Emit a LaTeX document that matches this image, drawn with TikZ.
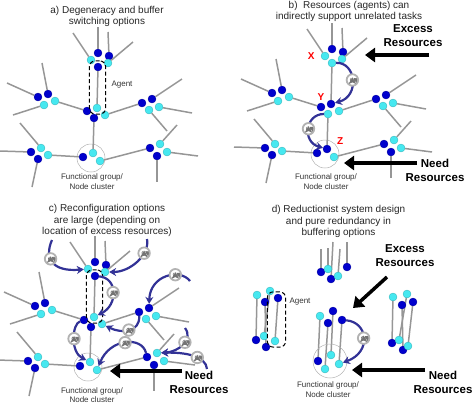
\documentclass[tikz,border=0pt]{standalone}
\usepackage{fontspec}
\setmainfont{Liberation Sans}
\usetikzlibrary{arrows.meta, positioning, fit, backgrounds}

\definecolor{dotblue}{RGB}{0,0,205}
\definecolor{dotcyan}{RGB}{70,232,240}
\definecolor{wiregray}{RGB}{150,150,150}
\definecolor{navy}{RGB}{50,50,150}

\tikzset{
  dot/.style={circle, inner sep=0pt, minimum size=8pt, fill=#1, draw=#1!75!black, line width=0.3pt},
  dkdot/.style={dot=dotblue},
  ltdot/.style={dot=dotcyan},
  va/.style={dkdot}, vb/.style={ltdot},
  wire/.style={draw=wiregray, line width=1.5pt},
  cluster/.style={circle, draw=gray!60, line width=0.5pt, minimum size=28pt, inner sep=0pt},
  agentbox/.style={draw, dash pattern=on 4pt off 2.5pt, line width=1pt, rounded corners=6pt, inner xsep=3.5pt, inner ysep=2pt},
  token/.style={circle, fill=white, draw=gray!60, line width=1.8pt, minimum size=11.5pt, inner sep=0pt,
    path picture={\draw[gray!90!black, line width=0.6pt] (path picture bounding box.center) ++(120:2.2pt) arc[start angle=120, end angle=420, radius=2.2pt];
      \draw[gray!90!black, line width=0.6pt] (path picture bounding box.center) -- ++(0,2.6pt);}},
  flow/.style={draw=navy, line width=2.2pt, -{Stealth[length=7pt, width=8pt]}},
  bigarrow/.style={line width=3.5pt, -{Triangle[length=10pt, width=14pt]}},
  heading/.style={align=center, text=black!85, font=\fontsize{10}{11.5}\selectfont},
  note/.style={align=center, text=black!80, font=\fontsize{8}{9.5}\selectfont},
  callout/.style={align=center, font=\bfseries\fontsize{11.5}{14}\selectfont},
  letter/.style={text=red, font=\bfseries\fontsize{10}{12}\selectfont, inner sep=1pt},
  net/.pic={
    \node[dkdot] (-t1) at (98,53) {};
    \node[dkdot] (-t2) at (109,56) {};
    \node[ltdot] (-t3) at (91,60) {};
    \node[ltdot] (-t4) at (108,63) {};
    \node[va] (-t5) at (98,67) {};
    \node[dkdot] (-l1) at (38,97) {};
    \node[dkdot] (-l2) at (48,94) {};
    \node[ltdot] (-l3) at (55,101) {};
    \node[ltdot] (-l4) at (44,105) {};
    \node[dkdot] (-m1) at (87,111) {};
    \node[vb] (-m2) at (97,108) {};
    \node[ltdot] (-m3) at (105,115) {};
    \node[va] (-m4) at (94,118) {};
    \node[dkdot] (-r1) at (142,103) {};
    \node[dkdot] (-r2) at (152,99) {};
    \node[ltdot] (-r3) at (159,107) {};
    \node[ltdot] (-r4) at (149,110) {};
    \node[dkdot] (-s1) at (31,152) {};
    \node[ltdot] (-s2) at (41,148) {};
    \node[ltdot] (-s3) at (48,155) {};
    \node[dkdot] (-s4) at (38,159) {};
    \node[dkdot] (-c1) at (83,157) {};
    \node[vb] (-c2) at (93,153) {};
    \node[ltdot] (-c3) at (100,161) {};
    \node[dkdot] (-e1) at (150,148) {};
    \node[ltdot] (-e2) at (160,144) {};
    \node[ltdot] (-e3) at (167,152) {};
    \node[dkdot] (-e4) at (157,156) {};
    \node[cluster] (-grp) at (91,158) {};
    % links between clusters
    \draw[wire] (-t5) -- (-m2);
    \draw[wire] (-l3) -- (-m1);
    \draw[wire] (-m3) -- (-r1);
    \draw[wire] (-m4) -- (-c2);
    \draw[wire] (-s3) -- (-c1);
    \draw[wire] (-c3) -- (-e1);
    % loose ends
    \foreach \n/\dx/\dy in {t1/0/-26, t2/-1/-24, t3/-18/-27, t4/25/-21,
        l1/-31/-14, l2/-6/-31, l4/-31/10, r2/30/-20, r3/33/6, r4/18/21,
        s1/-31/-1, s2/-21/-25, s4/-6/28, e2/17/-19, e3/31/4, e4/0/26}
      \draw[wire] (-\n) -- +(\dx,\dy);
  }
}

\begin{document}
\begin{tikzpicture}[x=1pt, y=-1pt]
\useasboundingbox (0,0) rectangle (474,413);

% a) degeneracy
\node[heading] (ttlA) at (107,16.5) {a) Degeneracy and buffer\\switching options};
\pic (pa) at (0,0) {net};
\node[agentbox, fit=(pa-t5)(pa-m2)] (agA) {};
\node[note] (agtA) at (122,85) {Agent};
\node[note] (fgA) at (92,181.5) {Functional group/\\Node cluster};

% b) indirect support
\node[heading] (ttlB) at (349,11.5) {b)~~Resources (agents) can\\indirectly support unrelated tasks};
\pic[va/.style=ltdot, vb/.style=dkdot] (pb) at (234,-4) {net};
\node[letter, left=5pt of pb-t3] (X) {X};
\node[letter, above=1pt of pb-m1] (Y) {Y};
\node[letter, above right=0pt and 6pt of pb-c2] (Z) {Z};
\draw[flow] (pb-t5) .. controls (356,62) and (360,96) .. (pb-m2) node[token, pos=0.5] (tkB1) {};
\draw[flow] (pb-m4) .. controls (305,114) and (302,142) .. (pb-c2) node[token, pos=0.5] (tkB2) {};
\node[note] (fgB) at (326,181.5) {Functional group/\\Node cluster};
\node[callout] (exB) at (413,36) {Excess\\Resources};
\coordinate (exBtail) at (429,55);
\coordinate (exBtip) at (365,55);
\draw[bigarrow] (exBtail) -- (exBtip);
\node[callout] (ndB) at (435,170) {Need\\Resources};
\coordinate (ndBtail) at (417,163);
\coordinate (ndBtip) at (344,163);
\draw[bigarrow] (ndBtail) -- (ndBtip);

% c) reconfiguration
\node[heading] (ttlC) at (107,220.5) {c) Reconfiguration options\\are large (depending on\\location of excess resources)};
\pic (pc) at (-3,209) {net};
\node[agentbox, fit=(pc-t5)(pc-m2)] (agC) {};
\coordinate (cs1) at (52,240);
\coordinate (cs2) at (147,239);
\coordinate (cs4) at (190,281);
\coordinate (cs8) at (185,328);
\coordinate (cs9) at (207,369);
\draw[flow] (cs1) .. controls (44,258) and (52,272) .. (pc-t3) node[token, pos=0.4] (tkC1) {};
\draw[flow] (cs2) .. controls (150,255) and (130,272) .. (pc-t4) node[token, pos=0.3] (tkC2) {};
\draw[flow] (pc-t5) .. controls (118,278) and (118,305) .. (pc-m2) node[token, pos=0.5] (tkC3) {};
\draw[flow] (cs4) .. controls (180,268) and (150,275) .. (pc-r2) node[token, pos=0.33] (tkC4) {};
\draw[flow] (pc-r1) .. controls (140,332) and (122,334) .. (pc-m3) node[token, pos=0.5] (tkC5) {};
\draw[flow] (pc-m1) .. controls (72,324) and (70,352) .. (pc-c2) node[token, pos=0.5] (tkC6) {};
\draw[flow] (pc-e1) .. controls (142,336) and (110,338) .. (pc-c3) node[token, pos=0.5] (tkC7) {};
\draw[flow] (cs8) .. controls (194,340) and (178,352) .. (pc-e2) node[token, pos=0.42] (tkC8) {};
\draw[flow] (cs9) .. controls (206,356) and (185,352) .. (pc-e2) node[token, pos=0.4] (tkC9) {};
\node[note] (fgC) at (92,395) {Functional group/\\Node cluster};
\node[callout] (ndC) at (199,382) {Need\\Resources};
\coordinate (ndCtail) at (182,371);
\coordinate (ndCtip) at (110,371);
\draw[bigarrow] (ndCtail) -- (ndCtip);

% d) reductionist design
\node[heading] (ttlD) at (338.5,221.5) {d) Reductionist system design\\and pure redundancy in\\buffering options};
\foreach \i/\x/\y/\c/\dx/\dy in {1/321/272/dotblue/0/-23, 2/328/269/dotcyan/0/-21,
    3/331/279/dotblue/2/-37, 4/338/276/dotcyan/2/-27, 5/347/267/dotblue/0/-25}
{
  \node[dot=\c] (T\i) at (\x,\y) {};
  \begin{pgfonlayer}{background}
    \draw[wire] (T\i.center) -- +(\dx,\dy);
  \end{pgfonlayer}
}
\foreach \g/\i/\xa/\ya/\ca/\xb/\yb/\cb in {
    L/1/257/295/dotcyan/256/340/dotblue, L/2/270/291/dotcyan/264/336/dotcyan,
    L/3/265/302/dotblue/266/347/dotblue, L/4/278/298/dotblue/275/341/dotcyan,
    C/1/320/316/dotcyan/318/361/dotblue, C/2/333/311/dotblue/331/355/dotcyan,
    C/3/328/323/dotblue/325/369/dotcyan, C/4/342/320/dotblue/339/364/dotcyan,
    R/1/393/297/dotcyan/392/343/dotblue, R/2/407/294/dotcyan/399/340/dotcyan,
    R/3/402/305/dotblue/403/350/dotblue, R/4/413/302/dotblue/408/346/dotcyan}
{
  \node[dot=\ca] (\g\i-up) at (\xa,\ya) {};
  \node[dot=\cb] (\g\i-dn) at (\xb,\yb) {};
  \begin{pgfonlayer}{background}
    \draw[wire] (\g\i-up.center) -- (\g\i-dn.center);
  \end{pgfonlayer}
}
\node[cluster, minimum size=34pt] (grpD) at (330,361) {};
\node[agentbox, fit=(L4-up)(L4-dn)] (agD) {};
\node[note] (agtD) at (300,302) {Agent};
\draw[flow] (C4-up) .. controls (368,322) and (372,352) .. (C4-dn) node[token, pos=0.5] (tkD) {};
\node[note] (fgD) at (328,389.5) {Functional group/\\Node cluster};
\node[callout] (exD) at (405,256) {Excess\\Resources};
\coordinate (exDtail) at (387,277);
\coordinate (exDtip) at (353,308);
\draw[bigarrow] (exDtail) -- (exDtip);
\node[callout] (ndD) at (443,382) {Need\\Resources};
\coordinate (ndDtail) at (425,370);
\coordinate (ndDtip) at (352,370);
\draw[bigarrow] (ndDtail) -- (ndDtip);
\end{tikzpicture}
\end{document}
